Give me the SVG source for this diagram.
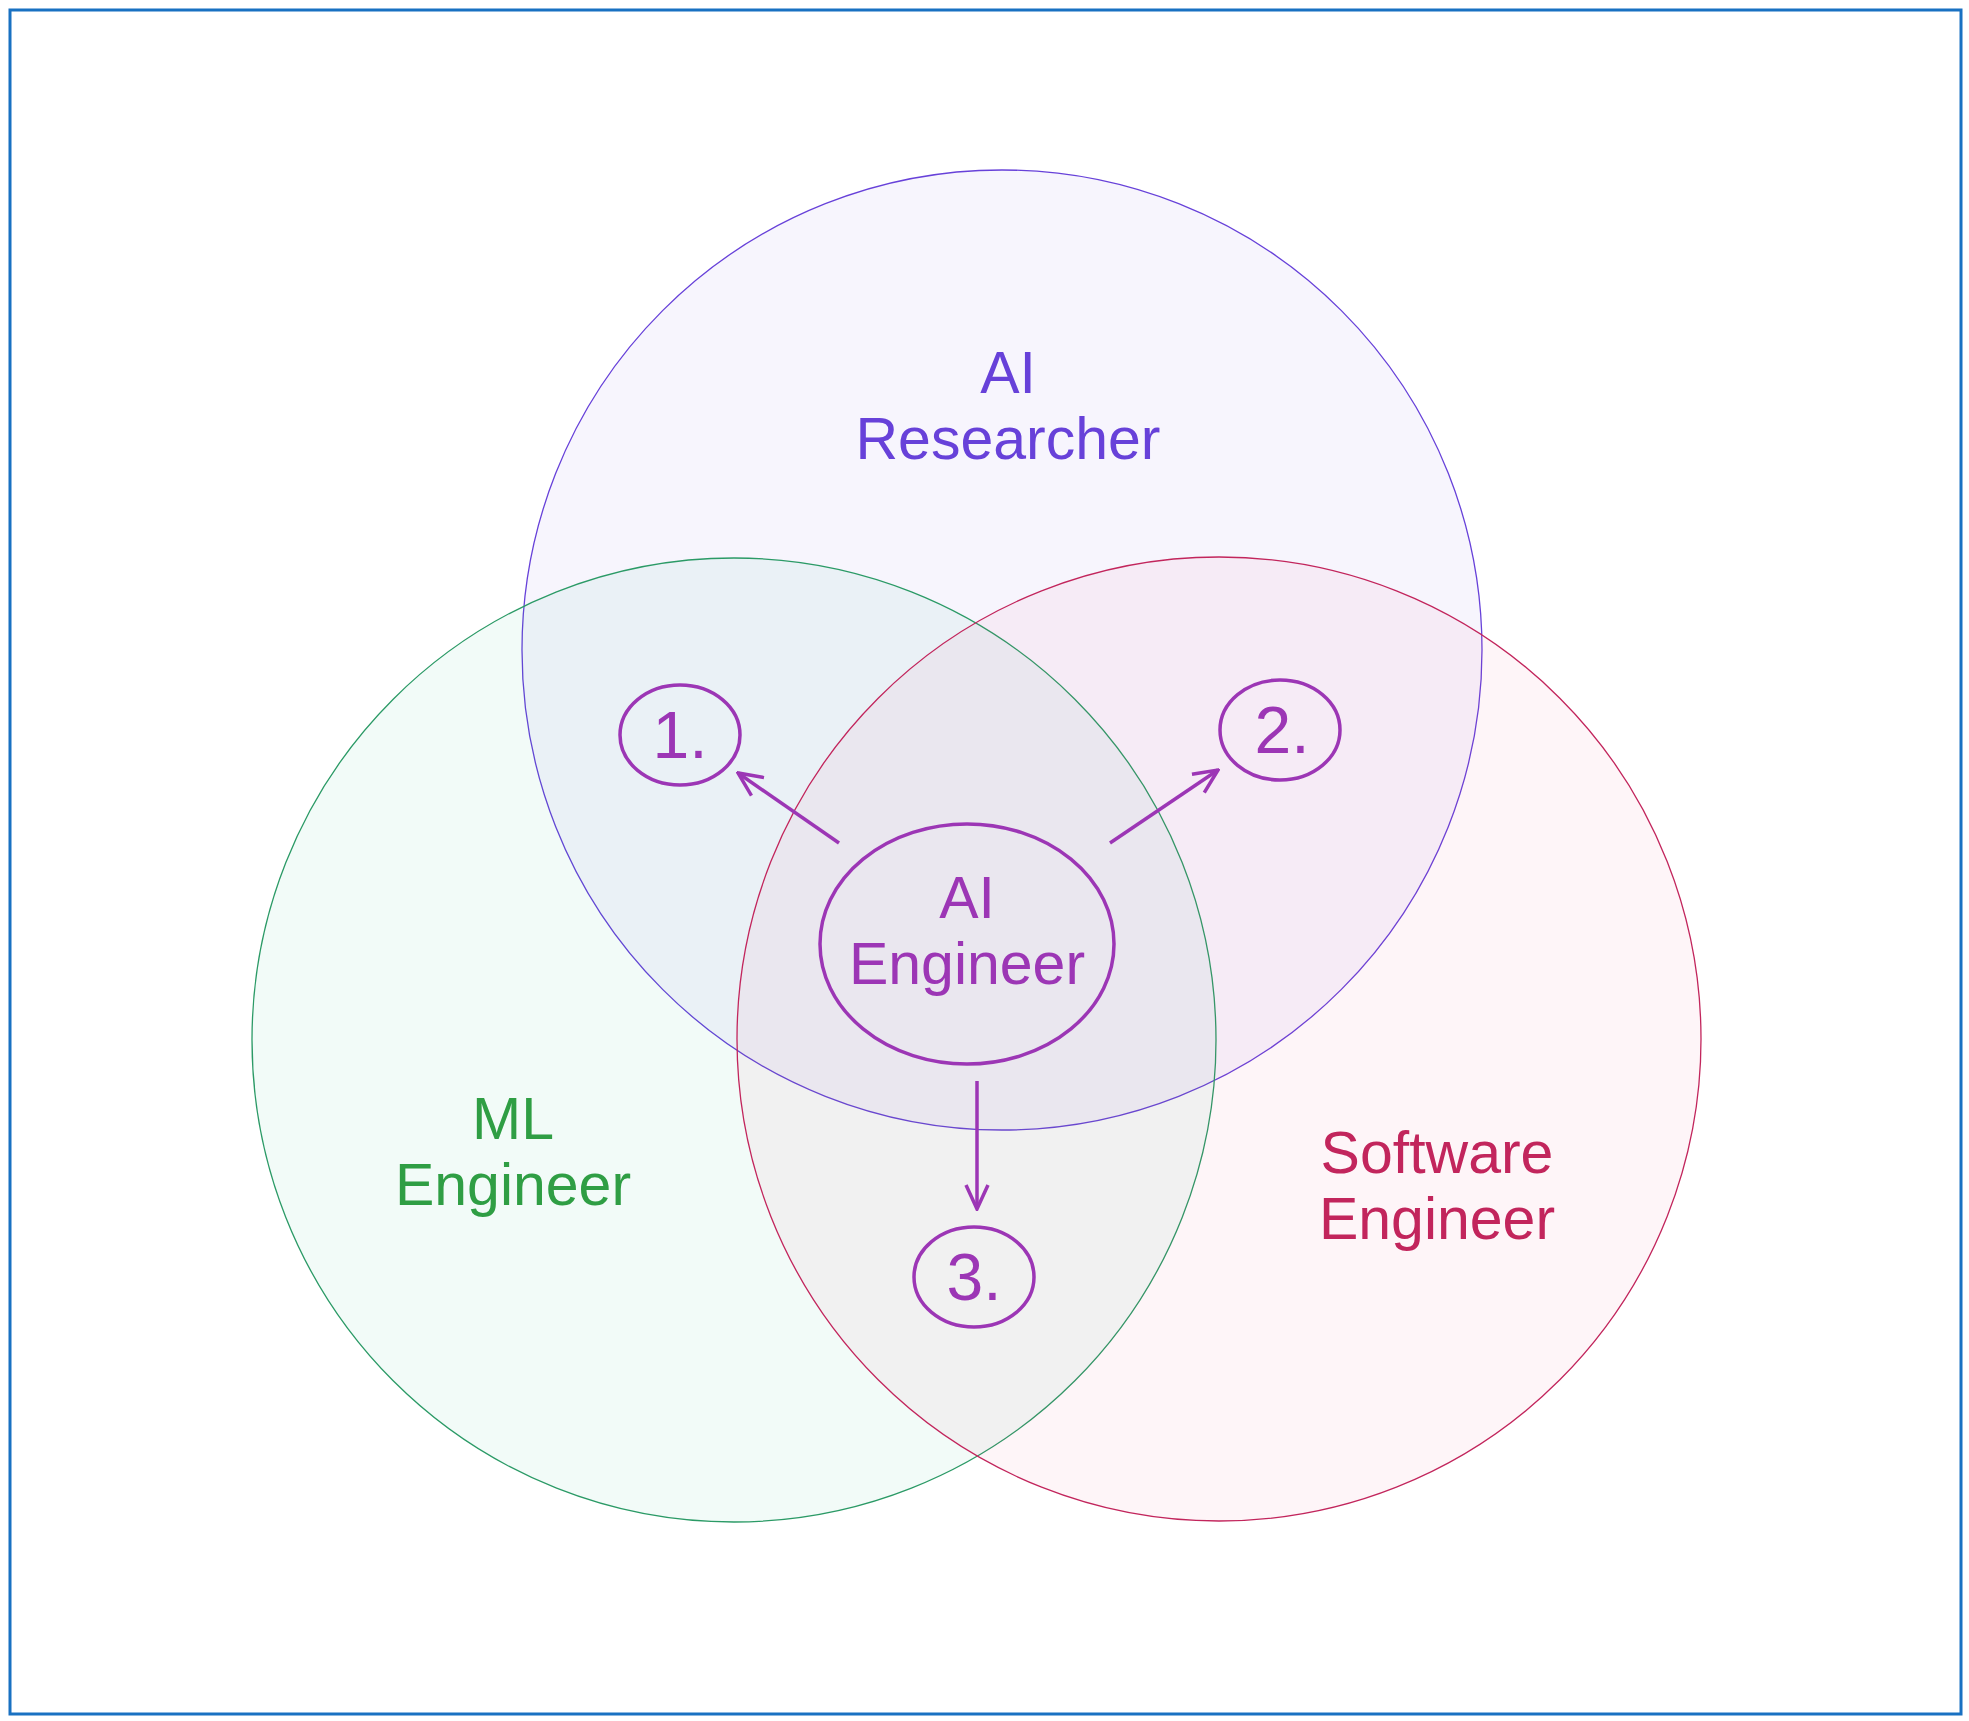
<svg xmlns="http://www.w3.org/2000/svg" width="1969" height="1721" viewBox="0 0 1969 1721">
<style>
text{font-family:"Liberation Sans",Arial,sans-serif;text-anchor:middle;font-size:59px}
.ring{stroke-width:1.3}
.eng{fill:none;stroke:#9c36b5;stroke-width:3.5}
.num{fill:#9c36b5;font-size:66px}
.conn{stroke:#9c36b5;stroke-width:3.5;fill:none;marker-end:url(#ah2)}
</style>
<defs>
<marker id="ah2" viewBox="0 0 30 30" refX="28" refY="15" markerWidth="30" markerHeight="30" orient="auto" markerUnits="userSpaceOnUse">
<path d="M4,4 L28,15 L4,26" fill="none" stroke="#9c36b5" stroke-width="3.5"/>
</marker>
</defs>
<rect width="1969" height="1721" fill="#fff"/>
<rect x="10" y="10" width="1951" height="1704" fill="none" stroke="#1971c2" stroke-width="3"/>
<g id="researcher"><circle class="ring" cx="1002" cy="650" r="480" fill="#6741d9" fill-opacity="0.055" stroke="#6741d9"/>
<text x="1008" y="393" fill="#6741d9">AI</text><text x="1008" y="459" fill="#6741d9">Researcher</text></g>
<g id="ml"><circle class="ring" cx="734" cy="1040" r="482" fill="#12b886" fill-opacity="0.055" stroke="#2b9a66"/>
<text x="513" y="1139" fill="#2f9e44">ML</text><text x="513" y="1205" fill="#2f9e44">Engineer</text></g>
<g id="software"><circle class="ring" cx="1219" cy="1039" r="482" fill="#e64980" fill-opacity="0.055" stroke="#c2255c"/>
<text x="1437" y="1173" fill="#c2255c">Software</text><text x="1437" y="1239" fill="#c2255c">Engineer</text></g>
<g id="aieng"><ellipse class="eng" cx="967" cy="944" rx="147" ry="120"/>
<text x="967" y="918" fill="#9c36b5">AI</text><text x="967" y="984" fill="#9c36b5">Engineer</text></g>
<g id="n1"><ellipse class="eng" cx="680" cy="735" rx="60" ry="50"/><text class="num" x="680" y="758">1.</text></g>
<g id="n2"><ellipse class="eng" cx="1280" cy="730" rx="60" ry="50"/><text class="num" x="1282" y="753">2.</text></g>
<g id="n3"><ellipse class="eng" cx="974" cy="1277" rx="60" ry="50"/><text class="num" x="974" y="1300">3.</text></g>
<g id="connectors">
<line class="conn" x1="839" y1="843" x2="738" y2="773"/>
<line class="conn" x1="1110" y1="843" x2="1218" y2="770"/>
<line class="conn" x1="977" y1="1081" x2="977" y2="1209"/>
</g>
</svg>
